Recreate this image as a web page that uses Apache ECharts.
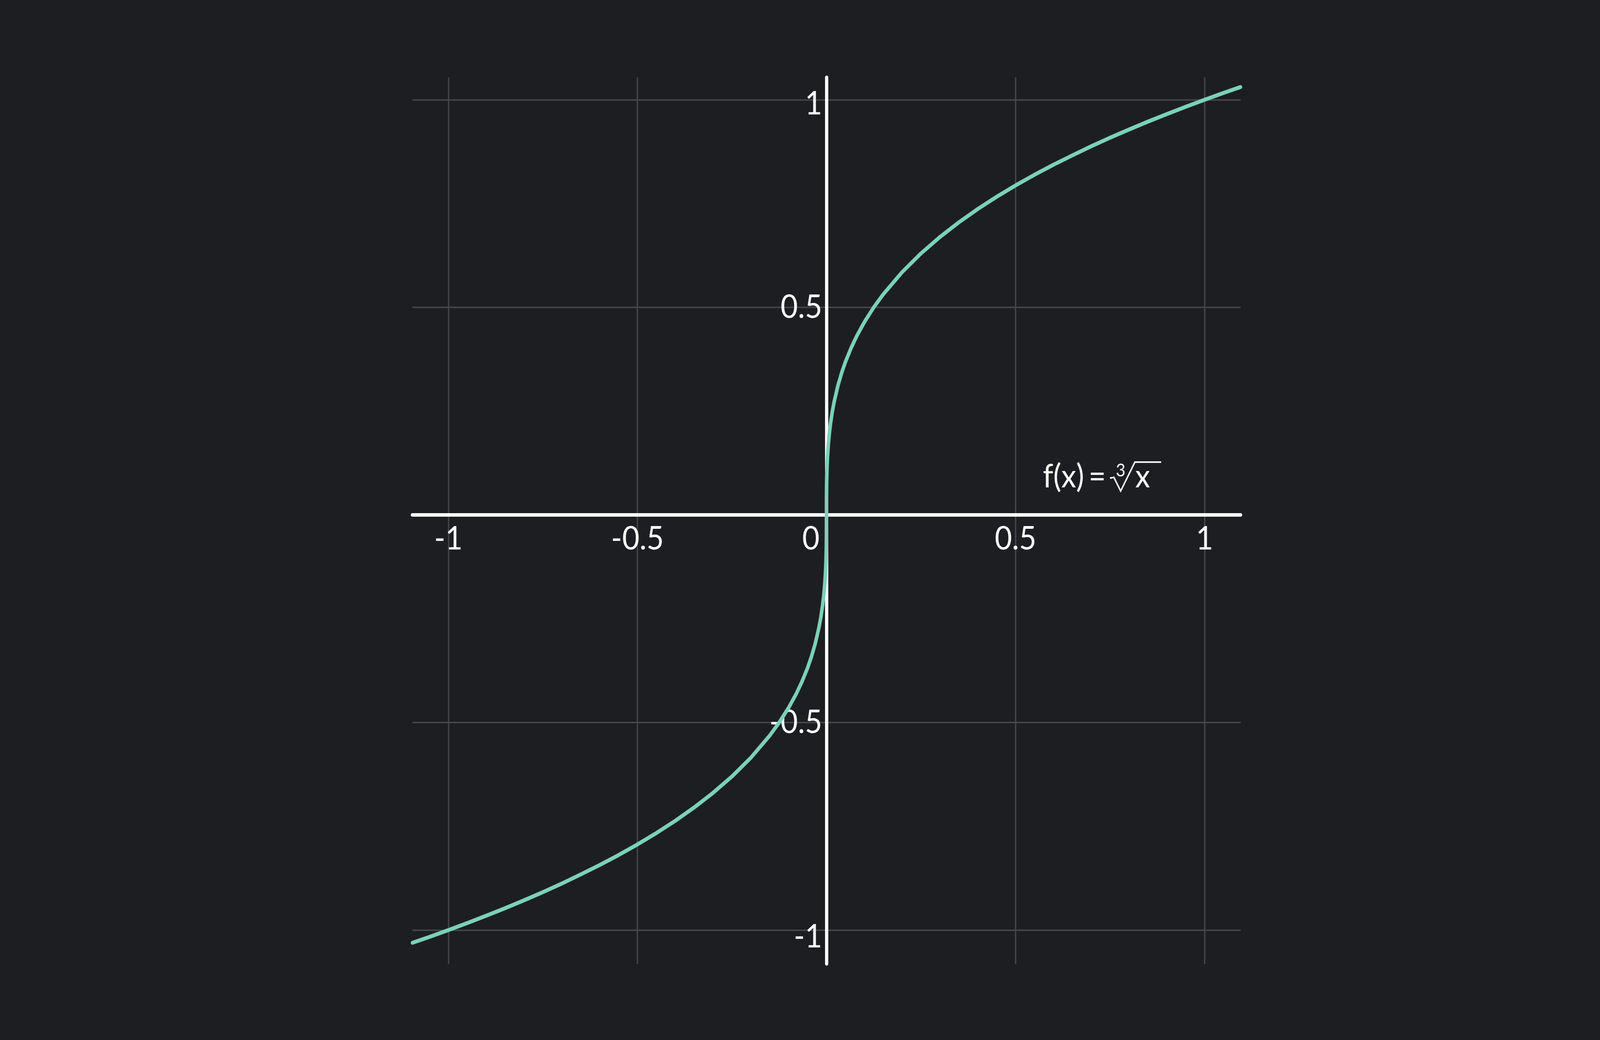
<!DOCTYPE html>
<html>
<head>
<meta charset="utf-8">
<script src="https://cdn.jsdelivr.net/npm/echarts@6/dist/echarts.min.js"></script>
<style>
html,body{margin:0;padding:0;background:#1d1e21;overflow:hidden;}
#c{width:4501px;height:2663px;transform-origin:0 0;}
</style>
</head>
<body>
<div id="c"></div>
<script>
// Curve samples (f(x) = cube root of x)
const xValues = [-1.095,-1.05,-1.0,-0.95,-0.9,-0.85,-0.8,-0.75,-0.7,-0.65,-0.6,-0.55,-0.5,-0.45,-0.4,-0.35,-0.3,-0.25,-0.2,-0.15,-0.125,-0.1,-0.08,-0.065,-0.05,-0.04,-0.03,-0.02,-0.015,-0.01,-0.0075,-0.005,-0.003,-0.002,-0.001,-0.0006,-0.0003,-0.0001,
  0,
  0.0001,0.0003,0.0006,0.001,0.002,0.003,0.005,0.0075,0.01,0.015,0.02,0.03,0.04,0.05,0.065,0.08,0.1,0.125,0.15,0.2,0.25,0.3,0.35,0.4,0.45,0.5,0.55,0.6,0.65,0.7,0.75,0.8,0.85,0.9,0.95,1.0,1.05,1.095];
const yValues = [-1.0307,-1.0164,-1.0,-0.983,-0.9655,-0.9473,-0.9283,-0.9086,-0.8879,-0.866,-0.8434,-0.8193,-0.7937,-0.7663,-0.7368,-0.7047,-0.6694,-0.63,-0.5848,-0.5313,-0.5,-0.4642,-0.4309,-0.402,-0.3684,-0.342,-0.3107,-0.2714,-0.2466,-0.2154,-0.1957,-0.171,-0.1442,-0.126,-0.1,-0.0843,-0.0669,-0.0464,
  0,
  0.0464,0.0669,0.0843,0.1,0.126,0.1442,0.171,0.1957,0.2154,0.2466,0.2714,0.3107,0.342,0.3684,0.402,0.4309,0.4642,0.5,0.5313,0.5848,0.63,0.6694,0.7047,0.7368,0.7663,0.7937,0.8193,0.8434,0.866,0.8879,0.9086,0.9283,0.9473,0.9655,0.983,1.0,1.0164,1.0307];
const xTickLabels = ['-1','-0.5','0','0.5','1'];
const yTickLabels = ['-1','-0.5','0.5','1'];
const formulaParts = ['f(x)', '=', '3', 'x'];

const FONT = 'Lato';
const W = 4501, H = 2663;
const GRID = {left:1160, right:1011, top:198, bottom:195};
const X_MIN = -1.0954, X_MAX = 1.0954, Y_MIN = -1.0814, Y_MAX = 1.0541;

// fit the 4501x2663 drawing into the actual window
const box = document.getElementById('c');
const sx = window.innerWidth / W, sy = window.innerHeight / H;
if (Math.abs(sx - 1) > 0.001 || Math.abs(sy - 1) > 0.001) {
  box.style.transform = 'scale(' + sx + ',' + sy + ')';
}

const chart = echarts.init(box, null, {renderer:'canvas', width:W, height:H});
const points = xValues.map((x,i)=>[x, yValues[i]]);

// offsets that place each axis (line + labels) at the other axis' zero
const gridW = W - GRID.left - GRID.right, gridH = H - GRID.top - GRID.bottom;
const xAxisOffset = -gridH * (0 - Y_MIN) / (Y_MAX - Y_MIN);
const yAxisOffset = -gridW * (0 - X_MIN) / (X_MAX - X_MIN);

function fmt(v){ return String(Math.round(v*100)/100); }

chart.setOption({
  backgroundColor:'#1d1e21',
  animation:false,
  grid:{left:GRID.left,right:GRID.right,top:GRID.top,bottom:GRID.bottom,containLabel:false,outerBoundsMode:'none'},
  xAxis:{
    type:'value', min:X_MIN, max:X_MAX, minInterval:0.5, maxInterval:0.5,
    position:'bottom', offset:xAxisOffset,
    axisLine:{show:true,onZero:false,lineStyle:{color:'#ffffff',width:9}},
    axisTick:{show:false},
    splitLine:{show:true,showMinLine:false,showMaxLine:false,lineStyle:{color:'#434447',width:4}},
    axisLabel:{
      show:true, showMinLabel:false, showMaxLabel:false, margin:19,
      color:'#ffffff', fontFamily:FONT, fontSize:84, hideOverlap:false,
      formatter:function(v){
        const s = fmt(v);
        if (xTickLabels.indexOf(s) < 0) return '';
        if (s === '0') return '{o|0}';
        return '{n|'+s+'}';
      },
      rich:{
        n:{color:'#ffffff',fontFamily:FONT,fontSize:84},
        o:{color:'#ffffff',fontFamily:FONT,fontSize:84,padding:[0,88,0,0]}
      }
    }
  },
  yAxis:{
    type:'value', min:Y_MIN, max:Y_MAX, minInterval:0.5, maxInterval:0.5,
    position:'left', offset:yAxisOffset,
    axisLine:{show:true,onZero:false,lineStyle:{color:'#ffffff',width:9}},
    axisTick:{show:false},
    splitLine:{show:true,showMinLine:false,showMaxLine:false,lineStyle:{color:'#434447',width:4}},
    axisLabel:{
      show:true, showMinLabel:false, showMaxLabel:false, margin:12,
      color:'#ffffff', fontFamily:FONT, fontSize:84, hideOverlap:false,
      formatter:function(v){
        const s = fmt(v);
        if (yTickLabels.indexOf(s) < 0) return '';
        if (s === '1') return '{a|1}';
        if (s === '-1') return '{b|-1}';
        return '{n|'+s+'}';
      },
      rich:{
        n:{color:'#ffffff',fontFamily:FONT,fontSize:84},
        a:{color:'#ffffff',fontFamily:FONT,fontSize:84,padding:[20,0,0,0]},
        b:{color:'#ffffff',fontFamily:FONT,fontSize:84,padding:[34,0,0,0]}
      }
    }
  },
  series:[{
    type:'line', data:points, showSymbol:false, symbol:'none', smooth:false, clip:false,
    lineStyle:{color:'#7bd1b8',width:10,cap:'round',join:'round'},
    z:5
  }]
});

// Formula annotation anchored to a data position
const A = chart.convertToPixel({gridIndex:0}, [0.575, 0.066]);
const ax = A[0], ay = A[1];
chart.setOption({
  graphic:[
    {type:'text', z:10, x:ax-3, y:ay-27, style:{text:formulaParts[0], fill:'#ffffff', font:'84px '+FONT, textAlign:'left', textVerticalAlign:'middle', verticalAlign:'middle'}},
    {type:'text', z:10, x:ax+150, y:ay-27, style:{text:formulaParts[1], fill:'#ffffff', font:'84px '+FONT, textAlign:'center', textVerticalAlign:'middle', verticalAlign:'middle'}},
    {type:'text', z:10, x:ax+216, y:ay-43, style:{text:formulaParts[2], fill:'#ffffff', font:'46px '+FONT, textAlign:'center', textVerticalAlign:'middle', verticalAlign:'middle'}},
    {type:'polyline', z:10, shape:{points:[[ax+186,ay-24],[ax+197,ay-26],[ax+216,ay+9],[ax+256,ay-65],[ax+330,ay-65]]}, style:{stroke:'#ffffff', lineWidth:4, fill:null, lineJoin:'miter'}},
    {type:'text', z:10, x:ax+278, y:ay-27, style:{text:formulaParts[3], fill:'#ffffff', font:'84px '+FONT, textAlign:'center', textVerticalAlign:'middle', verticalAlign:'middle'}}
  ]
});
</script>
</body>
</html>
